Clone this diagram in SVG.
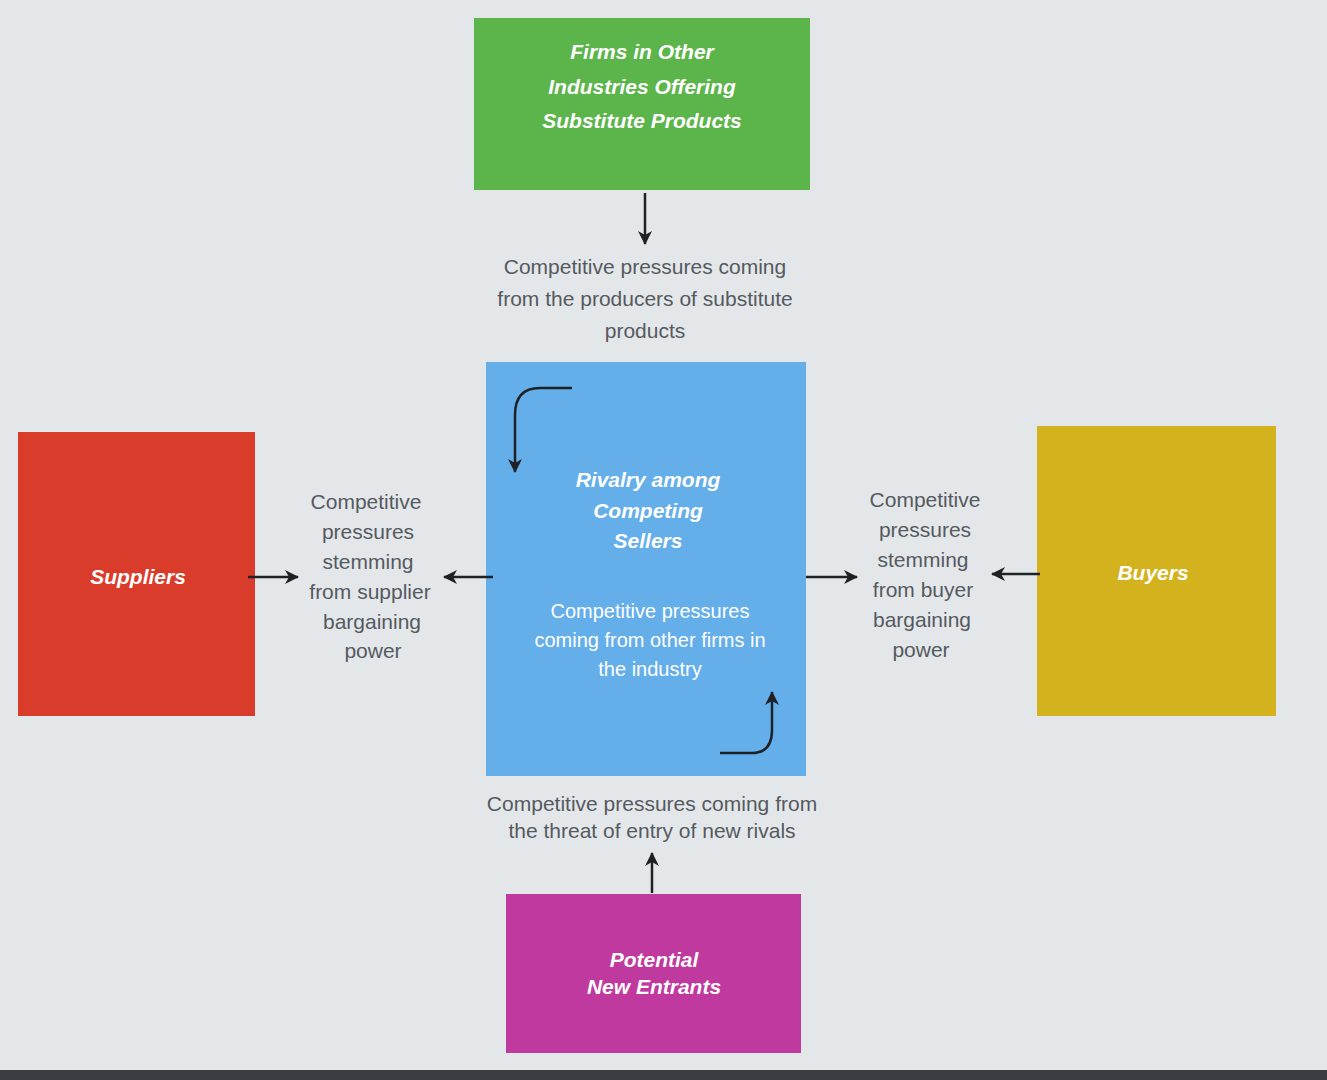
<svg xmlns="http://www.w3.org/2000/svg" width="1327" height="1080" viewBox="0 0 1327 1080">
<defs>
<marker id="ah" markerWidth="14" markerHeight="14" refX="13" refY="7" orient="auto" markerUnits="userSpaceOnUse" viewBox="0 0 14 14"><path d="M0,0 L14,7 L0,14 L4,7 Z" fill="#1e2226"/></marker>
<style>
.lbl{font-family:"Liberation Sans",sans-serif;font-size:21px;fill:#555a5f;text-anchor:middle}
.nt{font-family:"Liberation Sans",sans-serif;font-size:21px;font-weight:bold;font-style:italic;fill:#fff;text-anchor:middle}
.wt{font-family:"Liberation Sans",sans-serif;font-size:20px;fill:#fff;text-anchor:middle}
.c{stroke:#1e2226;stroke-width:2.5;fill:none;marker-end:url(#ah)}
</style>
</defs>
<rect width="1327" height="1080" fill="#e4e7ea"/>
<rect y="1070" width="1327" height="10" fill="#3a3d42"/>
<g id="substitutes"><rect x="474" y="18" width="336" height="172" fill="#5cb54a"/>
<text class="nt" x="642" y="59">Firms in Other</text><text class="nt" x="642" y="94">Industries Offering</text><text class="nt" x="642" y="128">Substitute Products</text></g>
<g id="rivalry"><rect x="486" y="362" width="320" height="414" fill="#64aeea"/>
<text class="nt" x="648" y="487">Rivalry among</text><text class="nt" x="648" y="518">Competing</text><text class="nt" x="648" y="548">Sellers</text>
<text class="wt" x="650" y="618">Competitive pressures</text><text class="wt" x="650" y="647">coming from other firms in</text><text class="wt" x="650" y="676">the industry</text></g>
<g id="suppliers"><rect x="18" y="432" width="237" height="284" fill="#d93c2a"/><text class="nt" x="138" y="584">Suppliers</text></g>
<g id="buyers"><rect x="1037" y="426" width="239" height="290" fill="#d4b21e"/><text class="nt" x="1153" y="580">Buyers</text></g>
<g id="entrants"><rect x="506" y="894" width="295" height="159" fill="#c0399e"/>
<text class="nt" x="654" y="967">Potential</text><text class="nt" x="654" y="994">New Entrants</text></g>
<g id="labels">
<text class="lbl" x="645" y="274">Competitive pressures coming</text><text class="lbl" x="645" y="306">from the producers of substitute</text><text class="lbl" x="645" y="338">products</text>
<text class="lbl" x="366" y="509">Competitive</text><text class="lbl" x="368" y="539">pressures</text><text class="lbl" x="368" y="569">stemming</text><text class="lbl" x="370" y="599">from supplier</text><text class="lbl" x="372" y="629">bargaining</text><text class="lbl" x="373" y="658">power</text>
<text class="lbl" x="925" y="507">Competitive</text><text class="lbl" x="925" y="537">pressures</text><text class="lbl" x="923" y="567">stemming</text><text class="lbl" x="923" y="597">from buyer</text><text class="lbl" x="922" y="627">bargaining</text><text class="lbl" x="921" y="657">power</text>
<text class="lbl" x="652" y="811">Competitive pressures coming from</text><text class="lbl" x="652" y="838">the threat of entry of new rivals</text>
</g>
<g id="connectors">
<path class="c" d="M645,193 V244"/>
<path class="c" d="M248,577 H298"/>
<path class="c" d="M493,577 H444"/>
<path class="c" d="M806,577 H857"/>
<path class="c" d="M1040,574 H992"/>
<path class="c" d="M652,893 V853"/>
<path class="c" d="M572,388 H540 Q515,388 515,415 V472"/>
<path class="c" d="M720,753 H752 Q772,753 772,730 V692"/>
</g>
</svg>
